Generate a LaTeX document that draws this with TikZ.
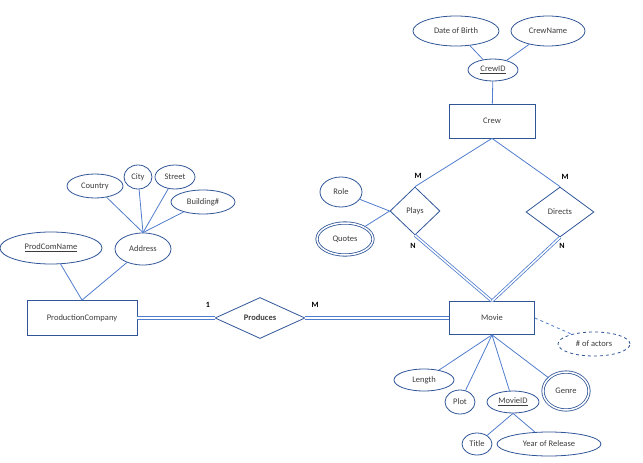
\documentclass[tikz,border=0pt]{standalone}
\usepackage{fontspec}
\setmainfont{Carlito}
\usetikzlibrary{shapes.geometric}
\definecolor{ln}{RGB}{80,125,205}
\definecolor{sh}{RGB}{47,85,151}
\definecolor{tx}{RGB}{60,60,60}
\begin{document}
\begin{tikzpicture}[x=1pt,y=-1pt,
  every node/.style={font=\fontsize{8.5}{10}\selectfont,text=tx},
  att/.style={ellipse,draw=sh,thick,inner sep=0pt,minimum width=#1},
  att/.default=40pt,
  dat/.style={att=#1,double=white,double distance=1.5pt},
  ent/.style={rectangle,draw=sh,thick,minimum width=86pt,minimum height=34pt},
  rel/.style={diamond,draw=sh,thick,inner sep=0pt,aspect=#1},
  c/.style={draw=ln,thick},
  dd/.style={draw=ln,double=white,double distance=1.5pt,thick},
  card/.style={font=\bfseries\fontsize{8}{10}\selectfont,text=black}]
\useasboundingbox (0,0) rectangle (643,463);
% crew side
\node[att=86pt,minimum height=30pt] (dob) at (456,31) {Date of Birth};
\node[att=74pt,minimum height=30pt] (cn) at (548,31) {CrewName};
\node[att=50pt,minimum height=22pt] (cid) at (493,70) {\underline{CrewID}};
\node[ent] (crew) at (492,121) {Crew};
\node[rel=1.05,minimum width=50pt,minimum height=48pt] (plays) at (415,211) {Plays};
\node[rel=1.36,minimum width=68pt,minimum height=50pt] (dir) at (560,212) {Directs};
\node[att=42pt,minimum height=30pt] (role) at (341,192) {Role};
\node[dat=56pt,minimum height=32pt] (quo) at (345,239) {Quotes};
\node[ent,minimum width=85pt,minimum height=33pt] (movie) at (492,318) {Movie};
\node[att=72pt,minimum height=24pt,dashed] (act) at (594,344) {\# of actors};
\node[att=60pt,minimum height=22pt] (len) at (424,380) {Length};
\node[att=30pt,minimum height=24pt] (plot) at (460,402) {Plot};
\node[att=52pt,minimum height=22pt] (mid) at (513,402) {\underline{MovieID}};
\node[dat=46pt,minimum height=38pt] (gen) at (566,391) {Genre};
\node[att=30pt,minimum height=22pt] (tit) at (477,444) {Title};
\node[att=104pt,minimum height=24pt] (yor) at (549,444) {Year of Release};
% company side
\node[att=56pt,minimum height=24pt] (ctry) at (95,186) {Country};
\node[att=28pt,minimum height=24pt] (city) at (138,177) {City};
\node[att=40pt,minimum height=24pt] (str) at (175,177) {Street};
\node[att=64pt,minimum height=24pt] (bld) at (203,202) {Building\#};
\node[att=56pt,minimum height=32pt] (addr) at (143,249) {Address};
\node[att=102pt,minimum height=32pt] (pcn) at (51,248) {\underline{ProdComName}};
\node[ent,minimum width=110pt,minimum height=35pt] (pc) at (82,318) {ProductionCompany};
\node[rel=2.2,minimum width=90pt,minimum height=41pt,font=\bfseries\fontsize{8.5}{10}\selectfont] (prod) at (260,318) {Produces};
% connectors
\draw[c] (cid) -- (dob); \draw[c] (cid) -- (cn); \draw[c] (cid) -- (crew);
\draw[c] (crew.south) -- (plays.north); \draw[c] (crew.south) -- (dir.north);
\draw[dd] (plays.south) -- (movie.north); \draw[dd] (dir.south) -- (movie.north);
\draw[c] (role) -- (plays.west); \draw[c] (quo) -- (plays.west);
\draw[c,dashed] (movie.east) -- (act);
\draw[c] (movie.south) -- (len); \draw[c] (movie.south) -- (plot);
\draw[c] (movie.south) -- (mid); \draw[c] (movie.south) -- (gen);
\draw[c] (mid.south) -- (tit); \draw[c] (mid.south) -- (yor);
\draw[c] (ctry) -- (addr.north); \draw[c] (city) -- (addr.north);
\draw[c] (str) -- (addr.north); \draw[c] (bld) -- (addr.north);
\draw[c] (addr) -- (pc.north); \draw[c] (pcn) -- (pc.north);
\draw[dd] (pc) -- (prod); \draw[dd] (prod) -- (movie);
% cardinalities
\node[card] (c1) at (208,305) {1};
\node[card] (c2) at (315,305) {M};
\node[card] (c3) at (418,176) {M};
\node[card] (c4) at (413,246) {N};
\node[card] (c5) at (565,177) {M};
\node[card] (c6) at (562,246) {N};
\end{tikzpicture}
\end{document}
